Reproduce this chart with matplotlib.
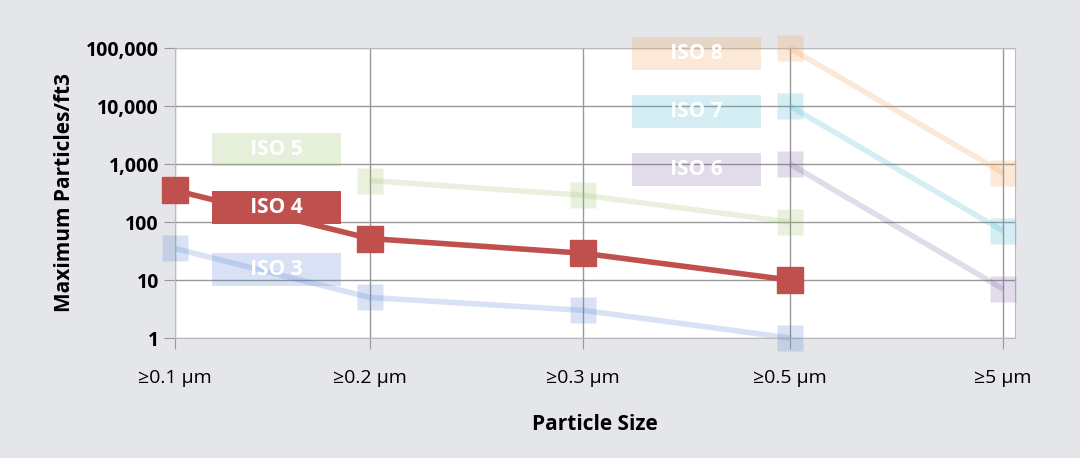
import matplotlib
matplotlib.use("agg")
import matplotlib.pyplot as plt
from matplotlib.ticker import FixedLocator, NullLocator

sizes = ["≥0.1 µm", "≥0.2 µm", "≥0.3 µm", "≥0.5 µm", "≥5 µm"]
xpos = [0, 0.94, 1.97, 2.97, 4.0]

iso3 = [35, 5, 3, 1]
iso4 = [352, 52, 29, 10]
iso5 = [520, 290, 100]
iso6 = [1000, 7]
iso7 = [10000, 70]
iso8 = [100000, 700]

red = "#c0504d"
faded = {"ISO 3": "#4f7fcf", "ISO 5": "#9bc26a", "ISO 6": "#7a5fa0",
         "ISO 7": "#3fb3d0", "ISO 8": "#f29a4a"}
bg = "#e4e6ea"

plt.rcParams['font.family'] = ['Open Sans', 'DejaVu Sans']
fig = plt.figure(figsize=(10.8, 4.58), dpi=100, facecolor=bg)
ax = fig.add_axes([0.162, 0.262, 0.778, 0.633])
ax.set_facecolor("white")

def faded_line(xs, ys, c):
    ax.plot(xs, ys, color=c, alpha=0.22, lw=4, solid_capstyle="butt", zorder=2, clip_on=False)
    ax.plot(xs, ys, ls="none", marker="s", ms=19, color=c, alpha=0.22, mec="none",
            zorder=3, clip_on=False)

faded_line(xpos[:4], iso3, faded["ISO 3"])
faded_line(xpos[1:4], iso5, faded["ISO 5"])
faded_line(xpos[3:5], iso6, faded["ISO 6"])
faded_line(xpos[3:5], iso7, faded["ISO 7"])
faded_line(xpos[3:5], iso8, faded["ISO 8"])
ax.plot(xpos[:4], iso4, color=red, lw=4, marker="s", ms=19, zorder=4, clip_on=False)

labels = [("ISO 5", 0.49, 1800, faded["ISO 5"], 0.25),
          ("ISO 4", 0.49, 180, red, 1.0),
          ("ISO 3", 0.49, 15, faded["ISO 3"], 0.22),
          ("ISO 8", 2.52, 80000, faded["ISO 8"], 0.22),
          ("ISO 7", 2.52, 8000, faded["ISO 7"], 0.22),
          ("ISO 6", 2.52, 800, faded["ISO 6"], 0.22)]
for name, x, y, c, a in labels:
    ax.text(x, y, "      " + name + "      ", ha="center", va="center",
            color="white", fontsize=15, fontweight="bold", zorder=5,
            bbox=dict(boxstyle="square,pad=0.28", fc=c, ec="none", alpha=a))

ax.set_yscale("log")
ax.set_ylim(1, 1e5)
ax.set_xlim(0, 4.058)
ax.yaxis.set_major_locator(FixedLocator([1, 10, 100, 1000, 1e4, 1e5]))
ax.yaxis.set_minor_locator(NullLocator())
ax.set_yticklabels(["1", "10", "100", "1,000", "10,000", "100,000"],
                   fontsize=14, fontweight="bold")
ax.set_xticks(xpos)
ax.set_xticklabels(sizes, fontsize=14)
ax.tick_params(axis="x", length=8, pad=14, color="#999999")
ax.tick_params(axis="y", length=8, color="#999999")
ax.grid(True, color="#999999", lw=1)
for s in ax.spines.values():
    s.set_color("#bbbbbb")
ax.set_xlabel("Particle Size", fontsize=15, fontweight="bold", labelpad=20)
ax.set_ylabel("Maximum Particles/ft3", fontsize=15, fontweight="bold", labelpad=8)

fig.savefig("out.png", facecolor=bg)
